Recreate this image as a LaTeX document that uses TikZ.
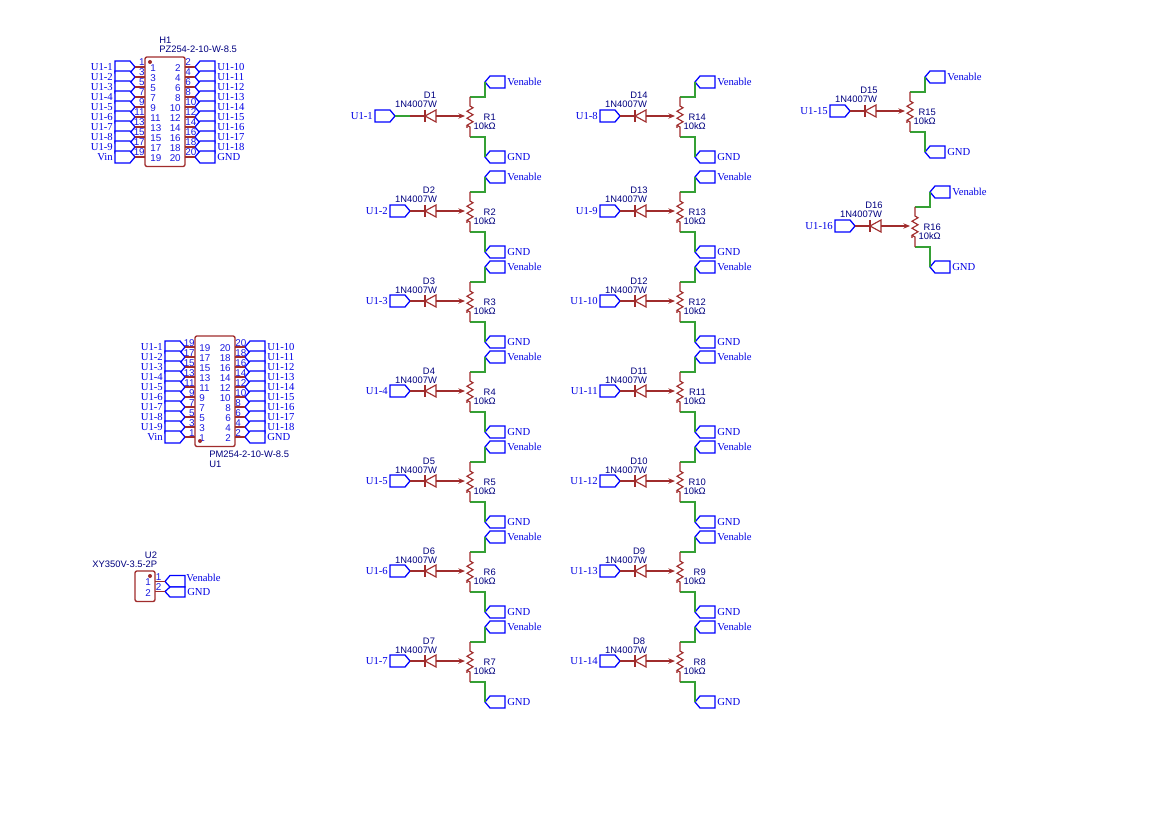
\documentclass[tikz,border=0pt]{standalone}
\usepackage{fontspec}
\setmainfont{Liberation Sans}
\newfontfamily\netfont{Liberation Serif}
\usetikzlibrary{arrows.meta}
\definecolor{comp}{HTML}{A02C2C}
\definecolor{netblue}{HTML}{0000FF}
\definecolor{wiregreen}{HTML}{35A035}
\definecolor{labelnavy}{HTML}{000080}
\definecolor{pinblue}{HTML}{1A1AE0}
\tikzset{
  flagshape/.style={draw=netblue,line width=.95pt,fill=white,line join=miter},
  compline/.style={draw=comp,line width=.85pt},
  greenwire/.style={draw=wiregreen,line width=.95pt},
  netlabel/.style={inner sep=0pt,text=netblue!90!black,font=\netfont\fontsize{8}{8}\selectfont},
  partlabel/.style={inner sep=0pt,text=labelnavy,font=\fontsize{7.05}{7}\selectfont},
  pinnum/.style={inner sep=0pt,text=pinblue,font=\fontsize{7.4}{7}\selectfont},
  compbox/.style={draw=comp,line width=1pt,rounded corners=1.5pt},
}
% flag with tip on the right, text on its left: name, tipx, y, text
\newcommand{\flagtoright}[4]{%
  \path[flagshape] (#2-20,#3-6) -- (#2-5,#3-6) -- (#2,#3) -- (#2-5,#3+6) -- (#2-20,#3+6) -- cycle;
  \coordinate (#1) at (#2,#3);
  \node[netlabel,anchor=base east] (#1t) at (#2-22,#3+3.7) {#4};
}
% flag with tip on the left, text on its right
\newcommand{\flagtoleft}[4]{%
  \path[flagshape] (#2+20,#3-6) -- (#2+5,#3-6) -- (#2,#3) -- (#2+5,#3+6) -- (#2+20,#3+6) -- cycle;
  \coordinate (#1) at (#2,#3);
  \node[netlabel,anchor=base west] (#1t) at (#2+22,#3+3.7) {#4};
}
% cell: x, y, net, index D, index R
\newcommand{\cell}[5]{%
  \coordinate (wi#5) at (#1-60,#2);
  \coordinate (bar#5) at (#1-45,#2);
  \coordinate (base#5) at (#1-34,#2);
  \coordinate (wip#5) at (#1-5,#2);
  \coordinate (rtop#5) at (#1,#2-19);
  \coordinate (rbot#5) at (#1,#2+21);
  \coordinate (gt#5) at (#1+15,#2-19);
  \coordinate (gb#5) at (#1+15,#2+21);
  \flagtoleft{ven#5}{#1+15}{#2-34}{Venable}
  \flagtoleft{gnd#5}{#1+15}{#2+41}{GND}
  \flagtoright{in#5}{#1-60}{#2}{#3}
  \draw[greenwire] (rtop#5) -- (gt#5) -- (ven#5);
  \draw[greenwire] (rbot#5) -- (gb#5) -- (gnd#5);
  \draw[compline] (wi#5) -- (bar#5);
  \draw[compline,-{Stealth[length=5pt,width=4pt]}] (base#5) -- (wip#5);
  \draw[compline] (#1-45,#2-6) -- (#1-45,#2+6);
  \draw[compline] (#1-45,#2) -- (#1-34,#2-6) -- (#1-34,#2+6) -- cycle;
  \draw[compline,line join=miter] (rtop#5) -- (#1,#2-10) -- (#1+3,#2-8.25) -- (#1-3,#2-4.75) -- (#1+3,#2-1.25) -- (#1-3,#2+2.25) -- (#1+3,#2+5.75) -- (#1-3,#2+9.25) -- (#1,#2+11) -- (rbot#5);
  \fill[comp] (#1-3,#2+11) circle (1.2);
  \node[partlabel,anchor=base] (dn#4) at (#1-41,#2-17) {D#4};
  \node[partlabel,anchor=base] (dv#4) at (#1-54,#2-8) {1N4007W};
  \node[partlabel,anchor=base east] (rn#5) at (#1+26,#2+4.5) {R#5};
  \node[partlabel,anchor=base east] (rv#5) at (#1+26,#2+13.5) {10k\char"03A9};
}
\begin{document}
\begin{tikzpicture}[x=.75pt,y=-.75pt]
\useasboundingbox (0,0) rectangle (1169,827);
\fill[white] (0,0) rectangle (1169,827);

% ---- H1
\foreach \n/\lab [count=\i from 0] in {1/U1-1,3/U1-2,5/U1-3,7/U1-4,9/U1-5,11/U1-6,13/U1-7,15/U1-8,17/U1-9,19/Vin}{
  \pgfmathsetmacro\yy{67+10*\i}
  \flagtoright{hl\n}{135}{\yy}{\lab}
  \draw[compline] (hl\n) -- (145,\yy);
  \node[pinnum,anchor=base east] (hlo\n) at (145,\yy-1) {\n};
  \node[pinnum,anchor=base west] (hli\n) at (150,\yy+4.5) {\n};
}
\foreach \n/\lab [count=\i from 0] in {2/U1-10,4/U1-11,6/U1-12,8/U1-13,10/U1-14,12/U1-15,14/U1-16,16/U1-17,18/U1-18,20/GND}{
  \pgfmathsetmacro\yy{67+10*\i}
  \flagtoleft{hr\n}{195}{\yy}{\lab}
  \draw[compline] (185,\yy) -- (hr\n);
  \node[pinnum,anchor=base west] (hro\n) at (185,\yy-1) {\n};
  \node[pinnum,anchor=base east] (hri\n) at (181,\yy+4.5) {\n};
}
\draw[compbox] (145,57) rectangle (185,166.5);
\fill[comp] (150,62) circle (2);
\node[partlabel,anchor=base west] (h1n) at (159,44) {H1};
\node[partlabel,anchor=base west] (h1v) at (159,52.5) {PZ254-2-10-W-8.5};

% ---- U1
\foreach \n/\lab [count=\i from 0] in {19/U1-1,17/U1-2,15/U1-3,13/U1-4,11/U1-5,9/U1-6,7/U1-7,5/U1-8,3/U1-9,1/Vin}{
  \pgfmathsetmacro\yy{347+10*\i}
  \flagtoright{ul\n}{185}{\yy}{\lab}
  \draw[compline] (ul\n) -- (195,\yy);
  \node[pinnum,anchor=base east] (ulo\n) at (195,\yy-1) {\n};
  \node[pinnum,anchor=base west] (uli\n) at (199,\yy+4) {\n};
}
\foreach \n/\lab [count=\i from 0] in {20/U1-10,18/U1-11,16/U1-12,14/U1-13,12/U1-14,10/U1-15,8/U1-16,6/U1-17,4/U1-18,2/GND}{
  \pgfmathsetmacro\yy{347+10*\i}
  \flagtoleft{ur\n}{245}{\yy}{\lab}
  \draw[compline] (235,\yy) -- (ur\n);
  \node[pinnum,anchor=base west] (uro\n) at (235,\yy-1) {\n};
  \node[pinnum,anchor=base east] (uri\n) at (231,\yy+4) {\n};
}
\draw[compbox] (195,336) rectangle (235,446.5);
\fill[comp] (200,441) circle (2);
\node[partlabel,anchor=base west] (u1v) at (209,457.5) {PM254-2-10-W-8.5};
\node[partlabel,anchor=base west] (u1n) at (209,467.5) {U1};

% ---- U2
\path[flagshape] (185,575.5) -- (170,575.5) -- (165,581.5) -- (170,587) -- (185,587) -- cycle;
\path[flagshape] (185,587) -- (170,587) -- (165,591.5) -- (170,597) -- (185,597) -- cycle;
\coordinate (u2a) at (165,581.5);
\coordinate (u2b) at (165,591.5);
\draw[compline] (155,581.5) -- (u2a);
\draw[compline] (155,591.5) -- (u2b);
\draw[compbox] (135,571) rectangle (155,601.5);
\fill[comp] (150,576) circle (2);
\node[netlabel,anchor=base west] (u2v) at (186,581.5) {Venable};
\node[netlabel,anchor=base west] (u2g) at (187,595.5) {GND};
\node[pinnum,anchor=base] (u2i1) at (148,585.5) {1};
\node[pinnum,anchor=base] (u2i2) at (148,596) {2};
\node[pinnum,anchor=base west] (u2o1) at (155.5,580.5) {1};
\node[pinnum,anchor=base west] (u2o2) at (155.5,590.5) {2};
\node[partlabel,anchor=base] (u2n) at (151,558.5) {U2};
\node[partlabel,anchor=base east] (u2p) at (157.5,567.5) {XY350V-3.5-2P};

% ---- column 1
\foreach \yy/\net/\k in {211/U1-2/2,301/U1-3/3,391/U1-4/4,481/U1-5/5,571/U1-6/6,661/U1-7/7}{
  \cell{470}{\yy}{\net}{\k}{\k}
}
% R1 with its input flag set back by a green stub
\begin{scope}
  \coordinate (wi1) at (410,116);
  \coordinate (bar1) at (425,116);
  \coordinate (base1) at (436,116);
  \coordinate (wip1) at (465,116);
  \coordinate (rtop1) at (470,97);
  \coordinate (rbot1) at (470,137);
  \coordinate (gt1) at (485,97);
  \coordinate (gb1) at (485,137);
  \flagtoleft{ven1}{485}{82}{Venable}
  \flagtoleft{gnd1}{485}{157}{GND}
  \flagtoright{in1}{395}{116}{U1-1}
  \draw[greenwire] (in1) -- (wi1);
  \draw[greenwire] (rtop1) -- (gt1) -- (ven1);
  \draw[greenwire] (rbot1) -- (gb1) -- (gnd1);
  \draw[compline] (wi1) -- (bar1);
  \draw[compline,-{Stealth[length=5pt,width=4pt]}] (base1) -- (wip1);
  \draw[compline] (425,110) -- (425,122);
  \draw[compline] (bar1) -- (436,110) -- (436,122) -- cycle;
  \draw[compline,line join=miter] (rtop1) -- (470,106) -- (473,107.75) -- (467,111.25) -- (473,114.75) -- (467,118.25) -- (473,121.75) -- (467,125.25) -- (470,127) -- (rbot1);
  \fill[comp] (467,127) circle (1.2);
  \node[partlabel,anchor=base] (dn1) at (430,99) {D1};
  \node[partlabel,anchor=base] (dv1) at (416,108) {1N4007W};
  \node[partlabel,anchor=base east] (rn1) at (496,120.5) {R1};
  \node[partlabel,anchor=base east] (rv1) at (496,129.5) {10k\char"03A9};
\end{scope}

% ---- column 2
\foreach \yy/\net/\k in {116/U1-8/14,211/U1-9/13,301/U1-10/12,391/U1-11/11,481/U1-12/10,571/U1-13/9,661/U1-14/8}{
  \cell{680}{\yy}{\net}{\k}{\k}
}
% ---- column 3
\cell{910}{111}{U1-15}{15}{15}
\cell{915}{226}{U1-16}{16}{16}
\end{tikzpicture}
\end{document}
